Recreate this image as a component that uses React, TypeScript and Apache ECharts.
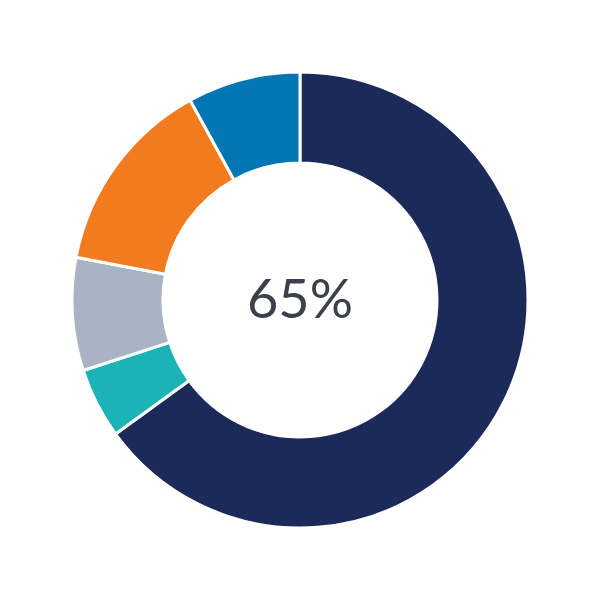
import React, { useEffect, useRef } from "react";
import * as echarts from "echarts";

const categories = ["Segment A", "Segment B", "Segment C", "Segment D", "Segment E"];
const values = [65, 5, 8, 14, 8];
const colors = ["#1b2a59", "#1bb3b5", "#a8b3c3", "#f27b20", "#0076b5"];
const centerLabel = "65%";

export default function App() {
  const ref = useRef<HTMLDivElement>(null);
  useEffect(() => {
    if (!ref.current) return;
    const chart = echarts.init(ref.current, undefined, { renderer: "svg" });
    chart.setOption({
      animation: false,
      backgroundColor: "#ffffff",
      graphic: [
        {
          type: "text",
          x: 300,
          y: 297,
          style: {
            text: centerLabel,
            fontFamily: "Lato",
            fontWeight: "normal",
            fontSize: 54,
            fill: "#3a414b",
            align: "center",
            verticalAlign: "middle",
          },
        },
      ],
      series: [
        {
          type: "pie",
          center: [300, 300],
          radius: [137, 228],
          startAngle: 90,
          clockwise: true,
          label: { show: false },
          labelLine: { show: false },
          emphasis: { disabled: true },
          itemStyle: { borderColor: "#ffffff", borderWidth: 3 },
          data: categories.map((name, i) => ({
            name,
            value: values[i],
            itemStyle: { color: colors[i] },
          })),
        },
      ],
    });
    return () => chart.dispose();
  }, []);
  return (
    <div
      ref={ref}
      style={{ position: "fixed", left: 0, top: 0, width: 600, height: 600 }}
    />
  );
}
